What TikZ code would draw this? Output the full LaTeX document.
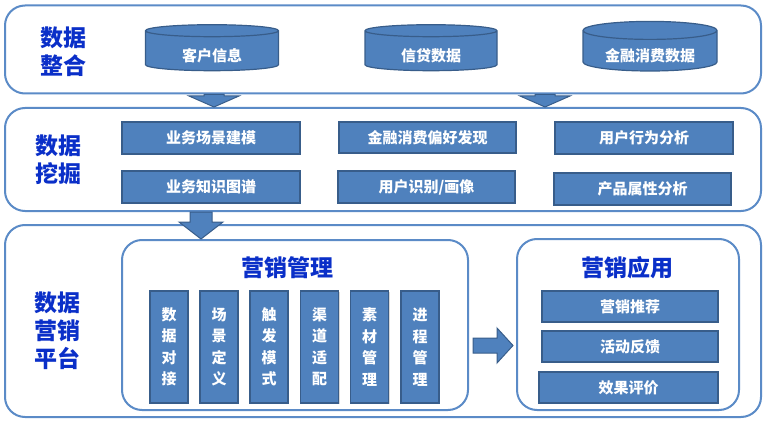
\documentclass[tikz,border=0pt]{standalone}
\usepackage{fontspec}
\setmainfont{Noto Sans CJK SC}
\usepackage{tikz}
\usetikzlibrary{shapes.geometric,calc,shadows}
\definecolor{boxfill}{HTML}{4F81BD}
\definecolor{boxline}{HTML}{385D8A}
\definecolor{panelline}{HTML}{5B8BC7}
\definecolor{titleblue}{HTML}{0A2FC8}
\tikzset{
  panel/.style = {draw=panelline, line width=2pt, rounded corners=20pt,
    inner sep=0pt},% grand cadre
  box_h/.style = {draw=boxline, fill=boxfill, line width=1.2pt, text=white,
    font=\bfseries\fontsize{15}{17}\selectfont, inner sep=0pt,
    drop shadow={shadow xshift=1.2pt, shadow yshift=-1.2pt, opacity=0.3}},% bloc horizontal
  box_v/.style = {box_h, align=center, minimum width=38pt, minimum height=112pt,
    font=\bfseries\fontsize{15}{21.5}\selectfont},% bloc vertical
  db/.style = {cylinder, shape border rotate=90, aspect=0.2, draw=boxline,
    fill=boxfill, line width=1.2pt, text=white, inner sep=0pt,
    text height=22pt, text depth=0pt,
    font=\bfseries\fontsize{15}{17}\selectfont},% base de donnees
  title/.style = {text=titleblue, align=center,
    font=\bfseries\fontsize{23}{28}\selectfont},
  fat/.style = {draw=boxline, fill=boxfill, line width=1pt, line join=miter}
}
% from, tip, shaft half, head half, head length
\newcommand{\fatdown}[5]{\draw[fat] ($(#1)+(-#3,0)$) -- ($(#2)+(-#3,-#5)$)
  -- ($(#2)+(-#4,-#5)$) -- (#2) -- ($(#2)+(#4,-#5)$) -- ($(#2)+(#3,-#5)$)
  -- ($(#1)+(#3,0)$) -- cycle;}
\newcommand{\fatright}[5]{\draw[fat] ($(#1)+(0,-#3)$) -- ($(#2)+(-#5,-#3)$)
  -- ($(#2)+(-#5,-#4)$) -- (#2) -- ($(#2)+(-#5,#4)$) -- ($(#2)+(-#5,#3)$)
  -- ($(#1)+(0,#3)$) -- cycle;}

\begin{document}
\begin{tikzpicture}[x=1pt, y=-1pt]
\useasboundingbox (0,0) rectangle (768,425);

% data integration
\node [panel, minimum width=756pt, minimum height=88pt] (p1) at (383,49.5) {};
\node [title] (t1) at (63,52) {数据\\整合};
\node [db, minimum width=133pt, minimum height=46pt] (d1) at (212,51) {客户信息};
\node [db, minimum width=132pt, minimum height=46pt] (d2) at (431,51) {信贷数据};
\node [db, minimum width=134pt, minimum height=46pt] (d3) at (650,51) {金融消费数据};

% data mining
\node [panel, minimum width=756pt, minimum height=103pt] (p2) at (383,159.5) {};
\node [title] (t2) at (58,160) {数据\\挖掘};
\node [box_h, minimum width=178pt, minimum height=32pt] (m1) at (211,138) {业务场景建模};
\node [box_h, minimum width=178pt, minimum height=32pt] (m2) at (211,187) {业务知识图谱};
\node [box_h, minimum width=177pt, minimum height=31pt] (m3) at (427.5,137.5) {金融消费偏好发现};
\node [box_h, minimum width=177pt, minimum height=32pt] (m4) at (426.5,187) {用户识别/画像};
\node [box_h, minimum width=178pt, minimum height=32pt] (m5) at (644,138) {用户行为分析};
\node [box_h, minimum width=177pt, minimum height=32pt] (m6) at (642.5,189) {产品属性分析};

% marketing platform
\node [panel, minimum width=756pt, minimum height=192pt] (p3) at (383,321) {};
\node [title] (t3) at (57,331) {数据\\营销\\平台};
\node [panel, minimum width=346pt, minimum height=170pt] (mg) at (295,325) {};
\node [title] (mgt) at (287,268) {营销管理};
\foreach \n/\x/\txt in {v1/169/数\\据\\对\\接, v2/219/场\\景\\定\\义,
    v3/269/触\\发\\模\\式, v4/319.5/渠\\道\\适\\配,
    v5/369.5/素\\材\\管\\理, v6/420/进\\程\\管\\理}
  \node [box_v] (\n) at (\x,347) {\txt};
\node [panel, minimum width=222pt, minimum height=171pt] (ap) at (628,324.5) {};
\node [title] (apt) at (627,268) {营销应用};
\node [box_h, minimum width=176pt, minimum height=31pt] (r1) at (630,306.5) {营销推荐};
\node [box_h, minimum width=176pt, minimum height=31pt] (r2) at (630,346.5) {活动反馈};
\node [box_h, minimum width=179pt, minimum height=31pt] (r3) at (628.5,387.5) {效果评价};

% block arrows
\coordinate (x1) at (214,0);
\coordinate (x2) at (545,0);
\coordinate (x3) at (201,0);
\fatdown{p1.south -| x1}{p2.north -| x1}{10}{25}{11}
\fatdown{p1.south -| x2}{p2.north -| x2}{10}{25}{11}
\fatdown{p2.south -| x3}{mg.north -| x3}{11}{22}{17}
\coordinate (a4s) at (473,345.5);
\coordinate (a4t) at (513,345.5);
\fatright{a4s}{a4t}{7.5}{17.5}{16}
\end{tikzpicture}
\end{document}
